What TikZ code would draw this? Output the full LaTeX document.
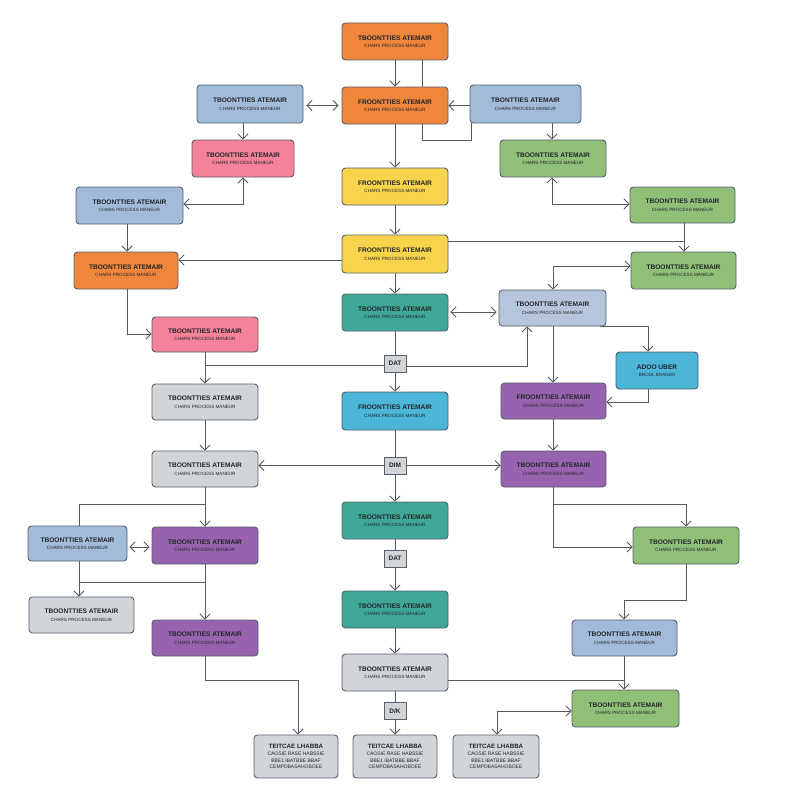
\documentclass[tikz,border=0pt]{standalone}
\usepackage{fontspec}
\setmainfont{Liberation Sans}
\usetikzlibrary{arrows.meta}
\definecolor{cline}{HTML}{555A5E}
\definecolor{cedge}{HTML}{55606A}
\definecolor{corange}{HTML}{F0853C}
\definecolor{cblue}{HTML}{A3BBDA}
\definecolor{cpale}{HTML}{B5C6DC}
\definecolor{cpink}{HTML}{F58298}
\definecolor{cgreen}{HTML}{90BF78}
\definecolor{cyellow}{HTML}{F7D44C}
\definecolor{cteal}{HTML}{3FA796}
\definecolor{ccyan}{HTML}{4CB6D9}
\definecolor{cpurple}{HTML}{9763AE}
\definecolor{cgray}{HTML}{D2D5D8}
\definecolor{ctext}{HTML}{22262A}
\tikzset{
  boxbase/.style={draw=cedge,line width=0.9pt,rounded corners=3.5pt,inner sep=0pt,align=center,text=ctext},
  taglabel/.style={draw=cedge,fill=cgray,line width=0.9pt,inner sep=0pt,minimum width=22pt,minimum height=17pt,font=\bfseries\fontsize{6.5}{7}\selectfont,text=ctext},
  conn/.style={draw=cline,line width=0.9pt},
  arr/.style={conn,-{Straight Barb[length=5pt,width=10pt,line width=0.9pt]}},
  darr/.style={conn,{Straight Barb[length=5pt,width=10pt,line width=0.9pt]}-{Straight Barb[length=5pt,width=10pt,line width=0.9pt]}},
}
\newcommand{\flowbox}[8]{%
  \pgfmathsetmacro{\bw}{#4-#2}\pgfmathsetmacro{\bh}{#5-#3}%
  \pgfmathsetmacro{\cx}{(#2+#4)/2}\pgfmathsetmacro{\cy}{(#3+#5)/2}%
  \node[boxbase,fill=#6,minimum width=\bw pt,minimum height=\bh pt] (#1) at (\cx,\cy)
    {{\bfseries\fontsize{6.6}{8}\selectfont #7}\\[-4.5pt]{\fontsize{4.6}{5}\selectfont #8}};}
\newcommand{\smalltxt}[1]{{\fontsize{5}{6.4}\selectfont #1}}
\newcommand{\notebox}[5]{%
  \pgfmathsetmacro{\bw}{#4-#2}\pgfmathsetmacro{\bh}{#5-#3}%
  \pgfmathsetmacro{\cx}{(#2+#4)/2}\pgfmathsetmacro{\cy}{(#3+#5)/2}%
  \node[boxbase,fill=cgray,minimum width=\bw pt,minimum height=\bh pt] (#1) at (\cx,\cy)
    {{\bfseries\fontsize{6.2}{8}\selectfont TEITCAE LHABBA}\\[-5pt]\smalltxt{CAGSIE RASE HABSSIE}\\[-5.5pt]\smalltxt{BBE1 IBATBBE BBAF}\\[-5.5pt]\smalltxt{CEMPDBASAHOBOEE}};}
\begin{document}
\begin{tikzpicture}[x=1pt,y=-1pt]
\useasboundingbox (0,0) rectangle (800,800);
\fill[white] (0,0) rectangle (800,800);
\def\subline{CHARS PROCESS MANEUR}
\flowbox{aa}{342}{23}{448}{60}{corange}{TBOONTTIES ATEMAIR}{\subline}
\flowbox{ab}{342}{87}{448}{124}{corange}{FROONTTIES ATEMAIR}{\subline}
\flowbox{ba}{197}{85}{303}{123}{cblue}{TBOONTTIES ATEMAIR}{\subline}
\flowbox{bb}{470}{85}{581}{123}{cblue}{TBONTTIES ATEMAIR}{\subline}
\flowbox{pa}{192}{140}{294}{177}{cpink}{TBOONTTIES ATEMAIR}{\subline}
\flowbox{ga}{500}{140}{606}{177}{cgreen}{TBOONTTIES ATEMAIR}{\subline}
\flowbox{ya}{342}{168}{448}{205}{cyellow}{FROONTTIES ATEMAIR}{\subline}
\flowbox{bc}{76}{187}{183}{224}{cblue}{TBOONTTIES ATEMAIR}{\subline}
\flowbox{gb}{630}{187}{735}{223}{cgreen}{TBOONTTIES ATEMAIR}{\subline}
\flowbox{yb}{342}{235}{448}{273}{cyellow}{FROONTTIES ATEMAIR}{\subline}
\flowbox{oc}{74}{252}{178}{289}{corange}{TBOONTTIES ATEMAIR}{\subline}
\flowbox{gc}{631}{252}{736}{289}{cgreen}{TBOONTTIES ATEMAIR}{\subline}
\flowbox{ta}{342}{294}{448}{331}{cteal}{TBOONTTIES ATEMAIR}{\subline}
\flowbox{bd}{499}{290}{606}{326}{cpale}{TBOONTTIES ATEMAIR}{\subline}
\flowbox{pb}{152}{317}{258}{352}{cpink}{TBOONTTIES ATEMAIR}{\subline}
\flowbox{ua}{616}{352}{698}{389}{ccyan}{ADOO UBER}{BRODL BRANDS}
\flowbox{gra}{152}{384}{258}{420}{cgray}{TBOONTTIES ATEMAIR}{\subline}
\flowbox{ca}{342}{392}{448}{430}{ccyan}{FROONTTIES ATEMAIR}{\subline}
\flowbox{pua}{501}{383}{606}{419}{cpurple}{FROONTTIES ATEMAIR}{\subline}
\flowbox{grb}{152}{451}{258}{487}{cgray}{TBOONTTIES ATEMAIR}{\subline}
\flowbox{pub}{501}{451}{606}{487}{cpurple}{TBOONTTIES ATEMAIR}{\subline}
\flowbox{tb}{342}{502}{448}{539}{cteal}{TBOONTTIES ATEMAIR}{\subline}
\flowbox{be}{28}{526}{127}{561}{cblue}{TBOONTTIES ATEMAIR}{\subline}
\flowbox{puc}{152}{527}{258}{564}{cpurple}{TBOONTTIES ATEMAIR}{\subline}
\flowbox{gd}{633}{527}{739}{564}{cgreen}{TBOONTTIES ATEMAIR}{\subline}
\flowbox{grc}{29}{597}{134}{633}{cgray}{TBOONTTIES ATEMAIR}{\subline}
\flowbox{tc}{342}{591}{448}{628}{cteal}{TBOONTTIES ATEMAIR}{\subline}
\flowbox{pud}{152}{620}{258}{656}{cpurple}{TBOONTTIES ATEMAIR}{\subline}
\flowbox{bf}{572}{620}{677}{656}{cblue}{TBOONTTIES ATEMAIR}{\subline}
\flowbox{grd}{342}{654}{448}{691}{cgray}{TBOONTTIES ATEMAIR}{\subline}
\flowbox{ge}{572}{690}{679}{727}{cgreen}{TBOONTTIES ATEMAIR}{\subline}
\notebox{sa}{254}{735}{338}{778}
\notebox{sb}{353}{735}{437}{778}
\notebox{sc}{453}{735}{539}{778}
\node[taglabel] (da) at (395,363.5) {DAT};
\node[taglabel] (db) at (395,465.5) {DIM};
\node[taglabel] (dc) at (395,558.5) {DAT};
\node[taglabel] (dd) at (395,711) {D/K};
% routing columns and rows
\coordinate (xa) at (422,140);
\coordinate (xb) at (471,140);
\coordinate (xc) at (684,241);
\coordinate (xd) at (127,334);
\coordinate (xe) at (553,266);
\coordinate (xf) at (527,366);
\coordinate (xg) at (648,326);
\coordinate (xh) at (648,402);
\coordinate (xi) at (205,504);
\coordinate (xj) at (79,504);
\coordinate (xk) at (205,582);
\coordinate (xl) at (79,582);
\coordinate (xm) at (553,547);
\coordinate (xn) at (553,504);
\coordinate (xo) at (686,504);
\coordinate (xp) at (686,600);
\coordinate (xq) at (624,600);
\coordinate (xr) at (624,680);
\coordinate (xs) at (205,680);
\coordinate (xt) at (298,680);
\coordinate (xu) at (497,711);
\coordinate (xv) at (243,204);
\coordinate (xw) at (552,204);
\coordinate (xy) at (205,365);
\coordinate (xz) at (127,260);
\coordinate (ya1) at (0,312);
\coordinate (ya2) at (0,547);
\coordinate (ya3) at (600,326);
% top block
\draw[arr] (aa) -- (ab);
\draw[conn] (aa.south -| xa) -- (ab.north -| xa);
\draw[conn] (ab.south -| xa) -- (xa) -- (xb) -- (bb.south -| xb);
\draw[darr,shorten <=3pt,shorten >=3pt] (ba.east |- ab) -- (ab.west);
\draw[arr] (bb.west |- ab) -- (ab);
\draw[arr] (ba.south -| xv) -- (pa.north -| xv);
\draw[arr] (bb.south -| xw) -- (ga.north -| xw);
\draw[arr] (ab) -- (ya);
\draw[darr] (bc.east |- xv) -- (xv) -- (pa.south -| xv);
\draw[darr] (gb.west |- xw) -- (xw) -- (ga.south -| xw);
\draw[arr] (ya) -- (yb);
\draw[arr] (bc.south -| xz) -- (oc.north -| xz);
\draw[arr] (yb.west |- xz) -- (oc.east |- xz);
\draw[conn] (yb.east |- xc) -- (xc);
\draw[arr] (gb.south -| xc) -- (gc.north -| xc);
\draw[arr] (yb) -- (ta);
\draw[arr] (oc.south -| xd) -- (xd) -- (pb.west |- xd);
% middle block
\draw[darr,shorten <=2pt,shorten >=2pt] (ta.east |- ya1) -- (bd.west |- ya1);
\draw[darr] (gc.west |- xe) -- (xe) -- (bd.north -| xe);
\draw[conn] (ta) -- (da);
\draw[arr] (da) -- (ca);
\draw[conn] (da.west |- xy) -- (xy);
\draw[arr] (pb.south -| xy) -- (gra.north -| xy);
\draw[arr] (da.east |- xf) -- (xf) -- (bd.south -| xf);
\draw[arr] (bd.south -| xe) -- (pua.north -| xe);
\draw[arr] (ya3) -- (xg) -- (ua.north -| xg);
\draw[arr] (ua.south -| xh) -- (xh) -- (pua.east |- xh);
\draw[arr] (pua.south -| xe) -- (pub.north -| xe);
\draw[arr] (gra.south -| xi) -- (grb.north -| xi);
\draw[conn] (ca) -- (db);
\draw[arr] (db) -- (tb);
\draw[arr] (db) -- (pub.west |- db);
\draw[arr] (db) -- (grb.east |- db);
% left block
\draw[arr] (grb.south -| xi) -- (puc.north -| xi);
\draw[conn] (xi) -- (xj) -- (be.north -| xj);
\draw[darr,shorten <=2pt,shorten >=2pt] (be.east |- ya2) -- (puc.west |- ya2);
\draw[arr] (be.south -| xl) -- (grc.north -| xl);
\draw[conn] (xl) -- (xk);
\draw[arr] (puc.south -| xk) -- (pud.north -| xk);
% right block
\draw[arr] (pub.south -| xm) -- (xm) -- (gd.west |- xm);
\draw[arr] (xn) -- (xo) -- (gd.north -| xo);
\draw[arr] (gd.south -| xp) -- (xp) -- (xq) -- (bf.north -| xq);
\draw[arr] (bf.south -| xr) -- (ge.north -| xr);
\draw[conn] (grd.east |- xr) -- (xr);
% lower centre
\draw[conn] (tb) -- (dc);
\draw[arr] (dc) -- (tc);
\draw[arr] (tc) -- (grd);
\draw[conn] (grd) -- (dd);
\draw[arr] (dd) -- (sb);
\draw[arr] (pud.south -| xs) -- (xs) -- (xt) -- (sa.north -| xt);
\draw[darr] (ge.west |- xu) -- (xu) -- (sc.north -| xu);
\end{tikzpicture}
\end{document}
